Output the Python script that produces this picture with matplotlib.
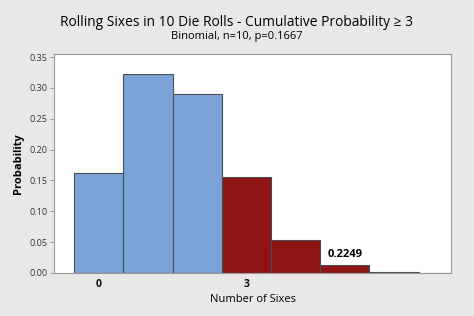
import matplotlib
matplotlib.use("Agg")
import matplotlib.pyplot as plt

# Data
sixes = [0, 1, 2, 3, 4, 5, 6, 7, 8, 9, 10]
probs = [0.1615, 0.3230, 0.2907, 0.1550, 0.0543, 0.0130, 0.0022, 0.0002, 0.0, 0.0, 0.0]
cutoff = 3
cum_label = "0.2249"
xtick_vals = [0, 3]
ytick_vals = [0.00, 0.05, 0.10, 0.15, 0.20, 0.25, 0.30, 0.35]

title = "Rolling Sixes in 10 Die Rolls - Cumulative Probability \u2265 3"
subtitle = "Binomial, n=10, p=0.1667"

plt.rcParams['font.family'] = ['Open Sans', 'DejaVu Sans']

bg = "#e8e8e8"
blue = "#7ba3d8"
red = "#8e1414"
edge = "#4a4f57"

fig = plt.figure(figsize=(4.74, 3.16), dpi=100, facecolor=bg)
ax = fig.add_axes([54/474, 1-273/316, (451-54)/474, (273-54)/316])
ax.set_facecolor("white")

colors = [red if s >= cutoff else blue for s in sixes]
ax.bar(sixes, probs, width=1.0, color=colors, edgecolor=edge, linewidth=0.8, zorder=2)

ax.set_xlim(-0.91, 7.16)
ax.set_ylim(0, 0.355)
ax.set_xticks(xtick_vals)
ax.set_xticklabels([str(v) for v in xtick_vals], fontweight="bold", fontsize=7.5)
ax.tick_params(axis="x", length=0, pad=4, colors="#111111")
ax.set_yticks(ytick_vals)
ax.set_yticklabels([f"{v:.2f}" for v in ytick_vals], fontsize=6.5, color="#333333")
ax.tick_params(axis="y", length=3, width=0.6, color="#888888", pad=1.5)

for s in ax.spines.values():
    s.set_color("#999999")
    s.set_linewidth(0.8)

ax.set_xlabel("Number of Sixes", fontsize=8, labelpad=3)
ax.set_ylabel("Probability", fontsize=8, fontweight="bold", labelpad=4)

ax.text(5, probs[5] + 0.008, cum_label, ha="center", va="bottom",
        fontsize=8, fontweight="bold")

fig.text(0.5, 1-22/316, title, ha="center", va="center", fontsize=9.9)
fig.text(0.5, 1-37/316, subtitle, ha="center", va="center", fontsize=8)

fig.savefig("out.png", dpi=100, facecolor=bg)
